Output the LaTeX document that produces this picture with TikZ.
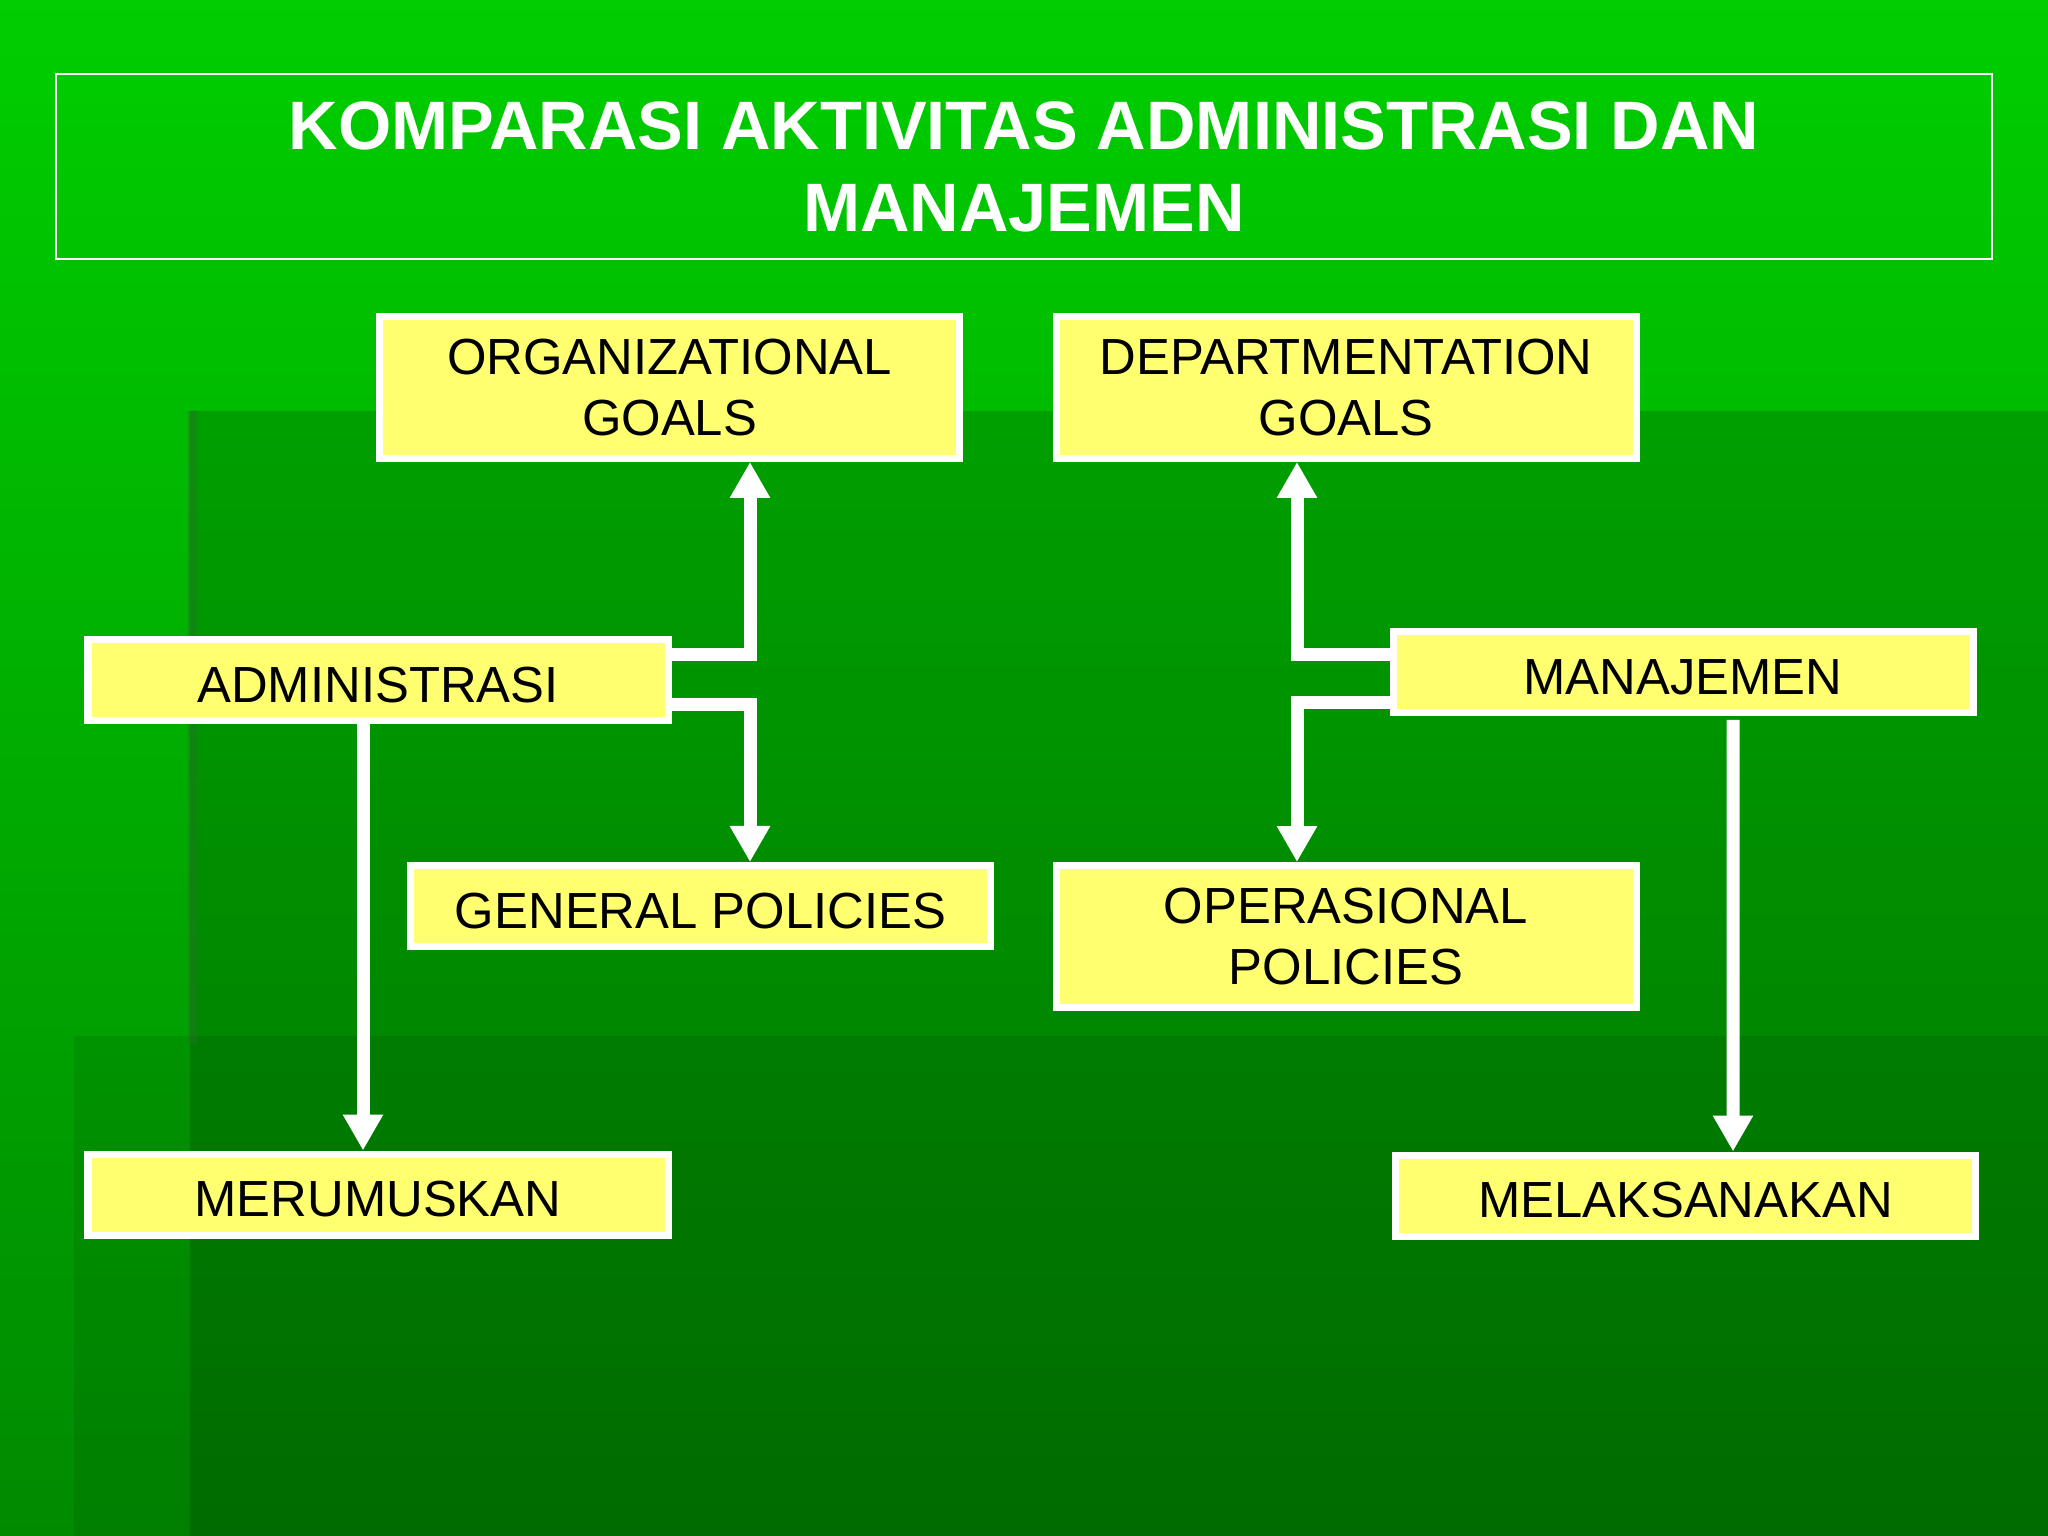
\documentclass[tikz,border=0pt]{standalone}
\usepackage{fontspec}
\setmainfont{Liberation Sans}
\usetikzlibrary{arrows.meta}
\definecolor{bgtop}{RGB}{0,206,0}
\definecolor{bgbot}{RGB}{0,138,0}
\definecolor{boxyellow}{RGB}{255,255,112}
\definecolor{stripe}{RGB}{35,118,35}
\tikzset{
  box/.style={draw=white, line width=0.07cm, fill=boxyellow, minimum width=5.80cm,
    minimum height=0.81cm, inner sep=0pt, align=center,
    font=\fontsize{14.45pt}{17.6pt}\selectfont, text=black,
    execute at begin node={\rule{0pt}{\dimexpr0.73em+0.08cm\relax}}},
  tallbox/.style={box, minimum height=1.42cm},
  conn/.style={draw=white, line width=0.13cm, -{Triangle[length=0.36cm,width=0.38cm]}},
  titlebox/.style={draw=white, line width=0.025cm, minimum width=19.36cm, minimum height=1.85cm,
    inner sep=0pt, align=center, text=white,
    font=\fontsize{19.5pt}{23.3pt}\selectfont\bfseries,
    execute at begin node={\rule{0pt}{\dimexpr0.73em+0.10cm\relax}}},
}
\begin{document}
\begin{tikzpicture}
\useasboundingbox (0,0) rectangle (20.48,-15.36);
% background
\shade[top color=bgtop, bottom color=bgbot] (0,0) rectangle (20.48,-15.36);
\fill[black, opacity=0.15] (1.90,-4.11) rectangle (20.48,-15.36);
\fill[black, opacity=0.08] (0.74,-10.36) rectangle (20.48,-15.36);
\fill[stripe, opacity=0.45] (1.88,-4.11) rectangle (1.97,-10.44);
% title
\node[titlebox] (title) at (10.24,-1.665) {KOMPARASI AKTIVITAS ADMINISTRASI DAN\\MANAJEMEN};
% boxes
\node[tallbox] (org) at (6.695,-3.875) {ORGANIZATIONAL\\GOALS};
\node[tallbox] (dep) at (13.46,-3.875) {DEPARTMENTATION\\GOALS};
\node[box] (adm) at (3.78,-6.80) {ADMINISTRASI};
\node[box] (man) at (16.83,-6.72) {MANAJEMEN};
\node[box] (gen) at (7.005,-9.06) {GENERAL POLICIES};
\node[tallbox] (ope) at (13.46,-9.365) {OPERASIONAL\\POLICIES};
\node[box] (mer) at (3.78,-11.945) {MERUMUSKAN};
\node[box] (mel) at (16.855,-11.955) {MELAKSANAKAN};
% connectors
\draw[conn] ([yshift=0.255cm]adm.east) -| ([xshift=0.805cm]org.south);
\draw[conn] ([yshift=-0.245cm]adm.east) -| ([xshift=0.495cm]gen.north);
\draw[conn] ([yshift=0.175cm]man.west) -| ([xshift=-0.49cm]dep.south);
\draw[conn] ([yshift=-0.31cm]man.west) -| ([xshift=-0.49cm]ope.north);
\draw[conn] ([xshift=-0.15cm]adm.south) -- ([xshift=-0.15cm]mer.north);
\draw[conn] ([xshift=0.5cm,yshift=-0.04cm]man.south) -- ([xshift=0.475cm]mel.north);
\end{tikzpicture}
\end{document}
